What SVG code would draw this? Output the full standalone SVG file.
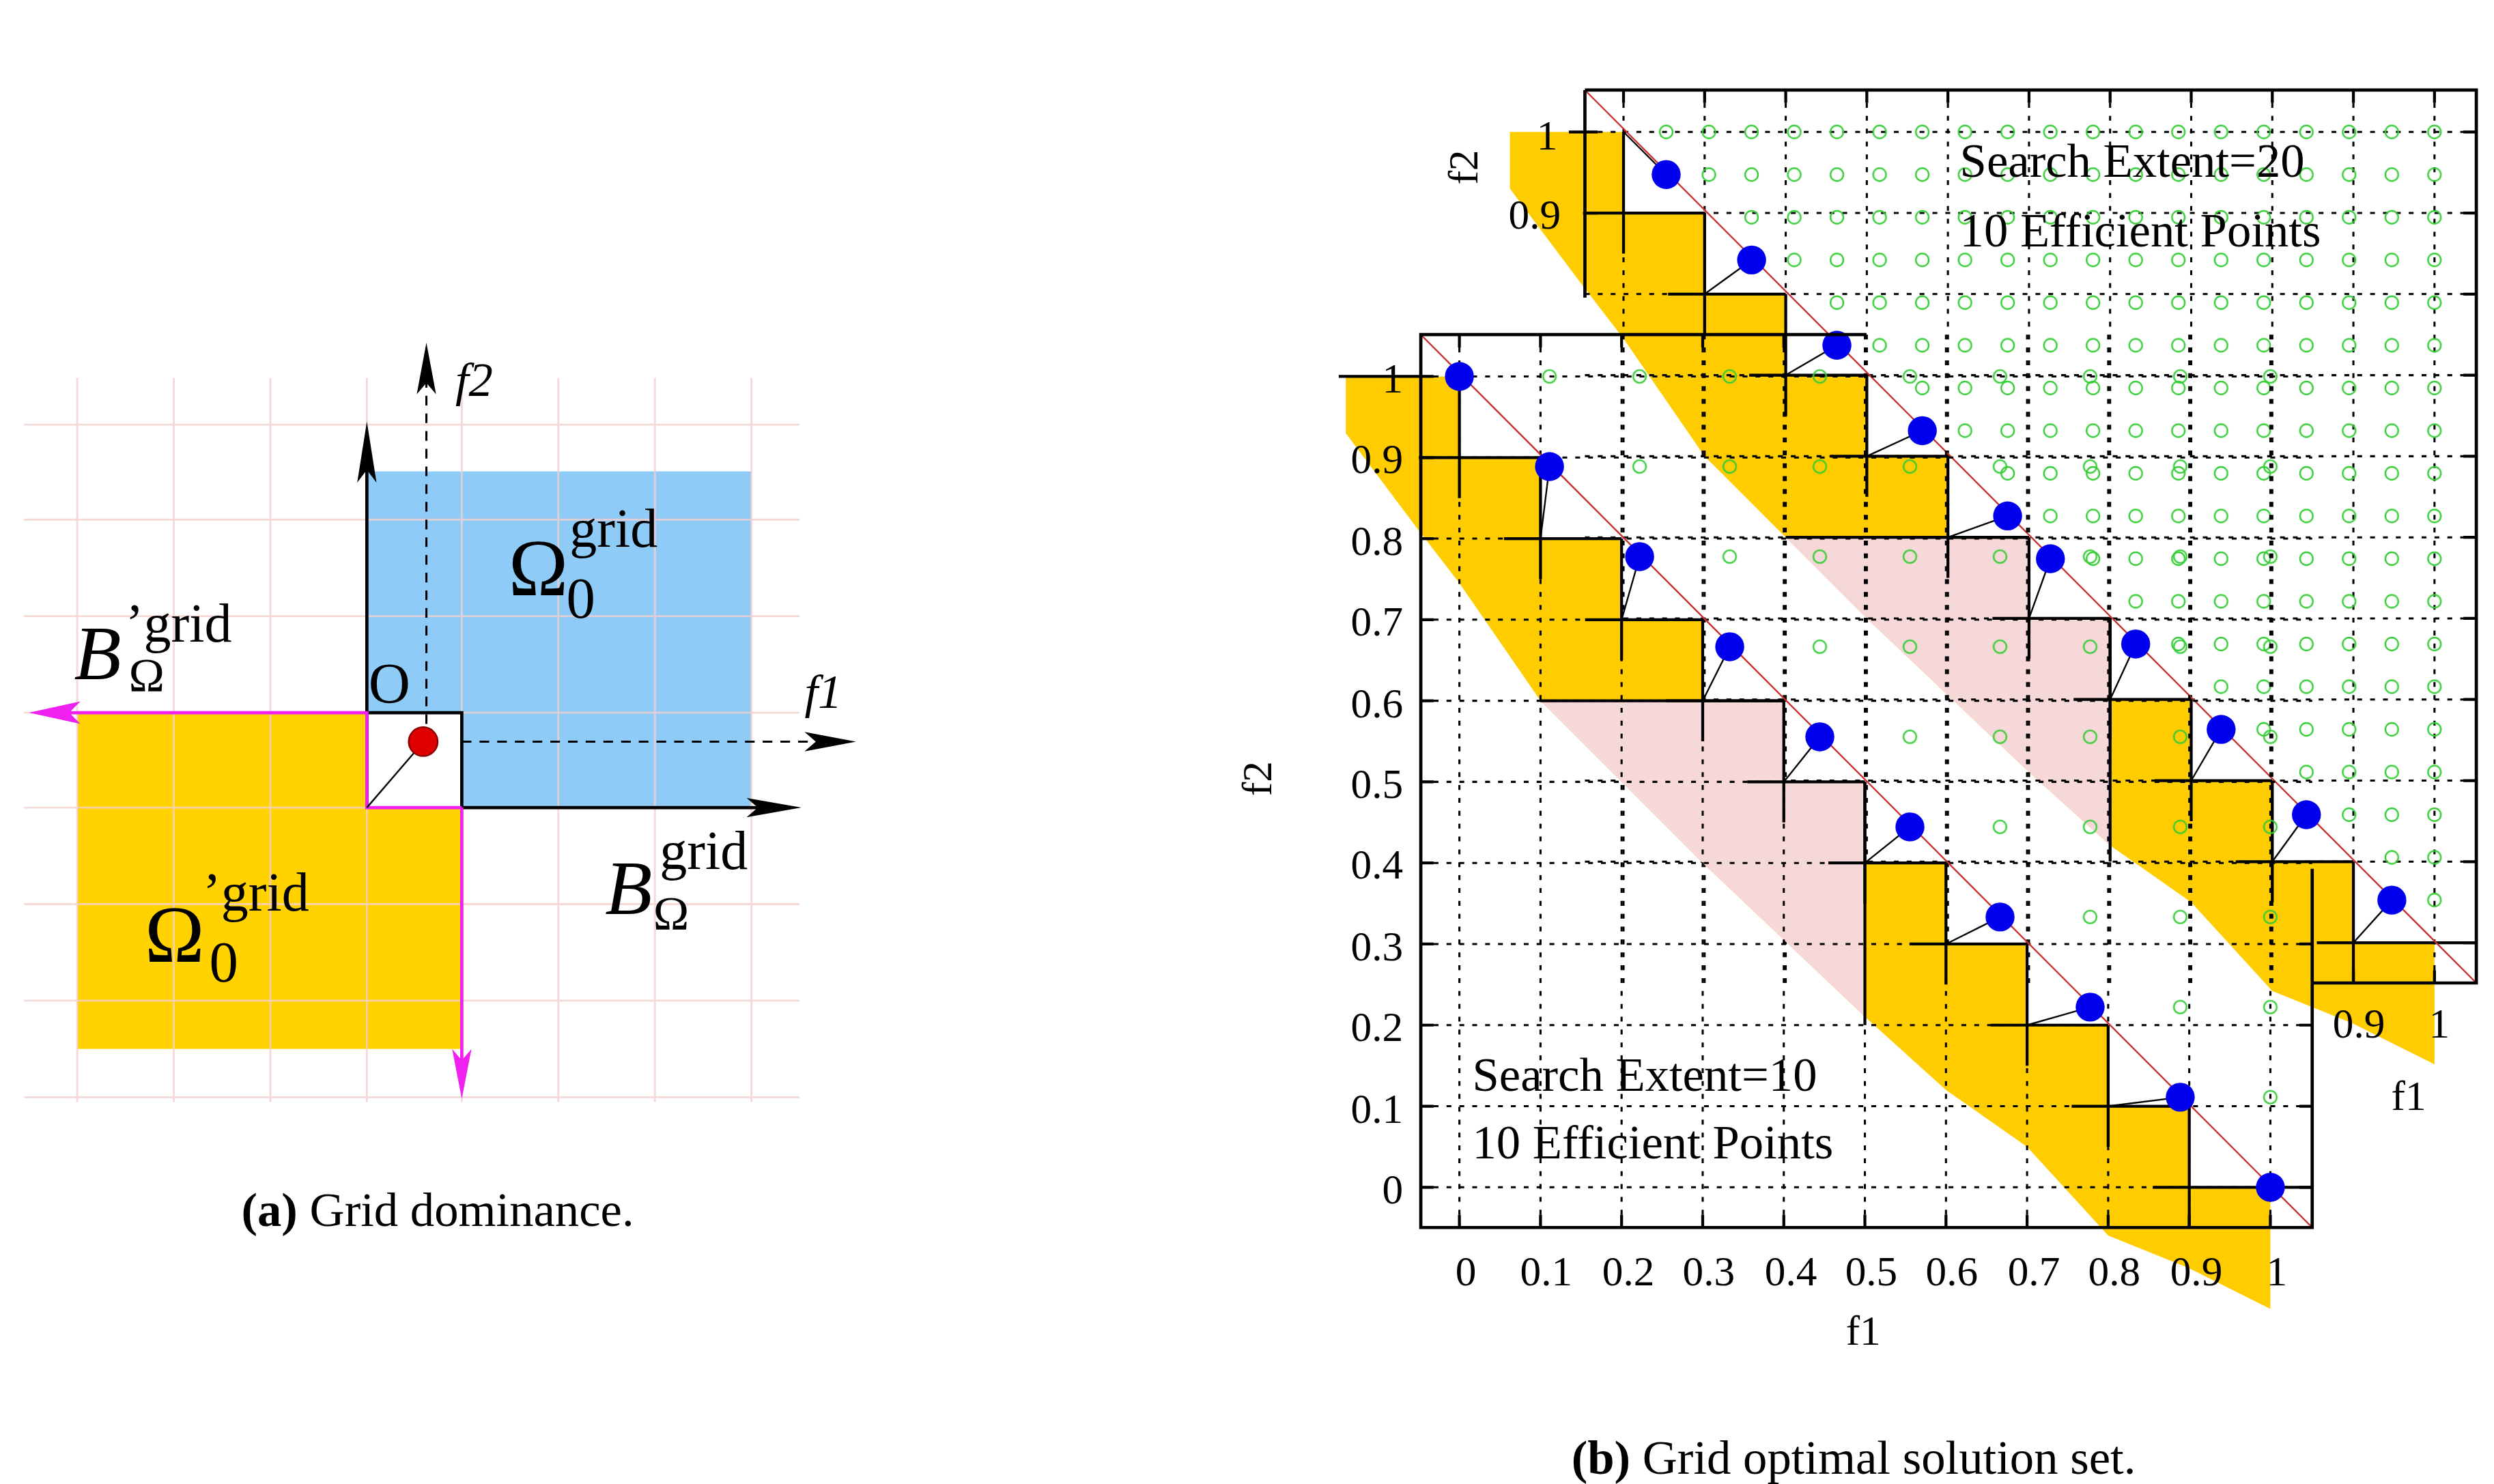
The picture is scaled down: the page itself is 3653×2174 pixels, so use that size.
<svg xmlns="http://www.w3.org/2000/svg" xmlns:xlink="http://www.w3.org/1999/xlink" width="3653" height="2174" viewBox="0 0 3653 2174">
<style>
text{font-family:"Liberation Serif","DejaVu Serif",serif;fill:#000}
.it{font-style:italic}
.tk{font-size:26px}
.grid{stroke:#f3d0d0;stroke-width:1.2;opacity:0.8;fill:none}
.dash{stroke:#000;stroke-width:1.3;stroke-dasharray:3 5;fill:none}
.blk{stroke:#000;stroke-width:1.8;fill:none}
.red{stroke:#c83030;stroke-width:1;fill:none}
.dot{fill:#0000ee}
.yel{fill:#ffcc00}
.pink{fill:#f7d8d8}
</style>
<defs>
<pattern id="gf" patternUnits="userSpaceOnUse" x="879" y="710" width="56" height="56"><circle cx="28" cy="28" r="4" fill="none" stroke="#33cc33" stroke-width="1"/></pattern>
<pattern id="gb" patternUnits="userSpaceOnUse" x="995.737" y="572.737" width="26.526" height="26.526"><circle cx="13.263" cy="13.263" r="4" fill="none" stroke="#33cc33" stroke-width="1"/></pattern>
<polygon id="band" class="yel" points="836.4,234 907,234 907,284.4 957.4,284.4 957.4,334.8 1007.8,334.8 1007.8,385.2 1058.2,385.2 1058.2,435.6 1108.6,435.6 1108.6,486 1159,486 1159,536.4 1209.4,536.4 1209.4,586.8 1259.8,586.8 1259.8,637.2 1310.2,637.2 1310.2,687.6 1360.6,687.6 1360.6,738 1411,738 1411,813.6 1360.6,788.4 1310.2,768 1259.8,712.8 1209.4,677.5 1159,632 1058.2,536.4 957.4,435.6 907,362.5 881.8,329.8 836.4,269.3"/>
<path id="steps" class="blk" d="M881.8,284.4H957.4M907,234V309.6 M934.7,334.8H1007.8M957.4,284.4V360 M985.1,385.2H1058.2M1007.8,334.8V410.4 M1035.5,435.6H1108.6M1058.2,385.2V460.8 M1085.9,486H1159M1108.6,435.6V511.2 M1136.3,536.4H1209.4M1159,486V561.6 M1186.7,586.8H1259.8M1209.4,536.4V612 M1237.1,637.2H1310.2M1259.8,586.8V662.4 M1287.5,687.6H1360.6M1310.2,637.2V712.8 M1337.9,738H1437M1360.6,687.6V763"/>
</defs>
<g transform="scale(2.3568)">
<!-- Panel (a) -->
<g id="panel-a">
<rect x="228" y="293" width="239" height="209" fill="#8ecbf6"/>
<rect x="48" y="443" width="239" height="209" fill="#ffd200"/>
<rect x="228" y="443" width="59" height="59" fill="#fff"/>
<path class="grid" d="M48,235V685M108,235V685M168,235V685M228,235V685M287,235V685M347,235V685M407,235V685M467,235V685M15,264H497M15,323H497M15,383H497M15,443H497M15,502H497M15,562H497M15,622H497M15,682H497"/>
</g>
<g id="connectors-a">
<path d="M265,461V222" stroke="#000" stroke-width="1.3" stroke-dasharray="6 5" fill="none"/>
<polygon points="265,213 259,245 265,238 271,245"/>
<path d="M287,461H522" stroke="#000" stroke-width="1.3" stroke-dasharray="6 5" fill="none"/>
<polygon points="532,461 500,455 507,461 500,467"/>
<path d="M228,502V272M228,443H287V502H490" stroke="#000" stroke-width="2" fill="none"/>
<polygon points="228,262 222,300 228,292 234,300"/>
<polygon points="498,502 464,496 471,502 464,508"/>
<path d="M287,502H228V443H28M287,502V672" stroke="#f020f0" stroke-width="2" fill="none"/>
<polygon points="18,443 50,436 43,443 50,450" fill="#f020f0"/>
<polygon points="287,683 281,652 287,659 293,652" fill="#f020f0"/>
<line x1="228" y1="502" x2="259" y2="466" stroke="#000" stroke-width="1"/>
</g>
<g id="origin-point"><circle cx="263" cy="461" r="9" fill="#e00000" stroke="#800" stroke-width="1"/></g>
<g id="labels-a">
<text x="283" y="246" class="it" font-size="30">f2</text>
<text x="500" y="440" class="it" font-size="30">f1</text>
<text x="229" y="437" font-size="36">O</text>
<text font-size="50"><tspan x="316" y="370">Ω</tspan><tspan font-size="34" x="354" y="340">grid</tspan><tspan font-size="36" x="352" y="384">0</tspan></text>
<text font-size="48"><tspan class="it" x="46" y="422">B</tspan><tspan font-size="34" x="78" y="399">’grid</tspan><tspan font-size="30" x="80" y="430">Ω</tspan></text>
<text font-size="50"><tspan x="90" y="598">Ω</tspan><tspan font-size="34" x="126" y="566">’grid</tspan><tspan font-size="36" x="130" y="610">0</tspan></text>
<text font-size="48"><tspan class="it" x="376" y="568">B</tspan><tspan font-size="34" x="410" y="540">grid</tspan><tspan font-size="30" x="406" y="578">Ω</tspan></text>
<text x="272" y="762" font-size="30" text-anchor="middle"><tspan font-weight="bold">(a)</tspan> Grid dominance.</text>
</g>

<!-- Panel (b): back plot (Search Extent=20) -->
<g id="plot-back" transform="translate(102,-152)">
<use xlink:href="#band"/>
<polygon class="pink" points="1007.8,486 1159,486 1159,536.4 1209.4,536.4 1209.4,677.5 1159,632 1058.2,536.4"/>
<path class="dash" d="M907,208V763M957.4,208V763M1007.8,208V763M1058.2,208V763M1108.6,208V763M1159,208V763M1209.4,208V763M1259.8,208V763M1310.2,208V763M1360.6,208V763M1411,208V763"/>
</g>
<g id="back-grid-h">
<path class="dash" d="M985,82H1539M985,132.4H1539M985,182.8H1539M985,233.2H1539M985,283.6H1539M985,334H1539M985,384.4H1539M985,434.8H1539M985,485.2H1539M985,535.6H1539"/>
<polygon points="1010,70 1525,70 1525,585" fill="url(#gb)"/>
</g>
<g id="back-steps" transform="translate(102,-152)">
<use xlink:href="#steps"/>
<path class="blk" d="M1007.8,486H1159M1209.4,536.4V687.6"/>
<line class="red" x1="883" y1="208" x2="1437" y2="763"/>
<path stroke="#000" stroke-width="1" d="M907,234L933.5,260.5M957.4,334.8L986.6,313.6M1007.8,385.2L1039.6,366.6M1058.2,435.6L1092.7,419.7M1108.6,486L1145.7,472.7M1159,536.4L1172.3,499.3M1209.4,586.8L1225.3,552.3M1259.8,637.2L1278.4,605.4M1310.2,687.6L1331.4,658.4M1360.6,738L1384.5,711.5"/>
<g class="dot"><circle cx="933.5" cy="260.5" r="9"/><circle cx="986.6" cy="313.6" r="9"/><circle cx="1039.6" cy="366.6" r="9"/><circle cx="1092.7" cy="419.7" r="9"/><circle cx="1145.7" cy="472.7" r="9"/><circle cx="1172.3" cy="499.3" r="9"/><circle cx="1225.3" cy="552.3" r="9"/><circle cx="1278.4" cy="605.4" r="9"/><circle cx="1331.4" cy="658.4" r="9"/><circle cx="1384.5" cy="711.5" r="9"/></g>
</g>
<g id="back-frame">
<path stroke="#000" stroke-width="2" fill="none" d="M985,56H1539V611H1437M985,56V185"/>
<path class="blk" d="M1009,56v8M1059.4,56v8M1109.8,56v8M1160.2,56v8M1210.6,56v8M1261,56v8M1311.4,56v8M1361.8,56v8M1412.2,56v8M1462.6,56v8M1513,56v8M1539,82h-8M1539,132.4h-8M1539,182.8h-8M1539,233.2h-8M1539,283.6h-8M1539,334h-8M1539,384.4h-8M1539,434.8h-8M1539,485.2h-8M1539,535.6h-8M1539,586h-8M1462.6,611v-8M1513,611v-8M975,82h18M985,132.4h8"/>
<text class="tk" x="968" y="93" text-anchor="end">1</text>
<text class="tk" x="970" y="142" text-anchor="end">0.9</text>
<text class="tk" transform="translate(918,104) rotate(-90)" text-anchor="middle">f2</text>
<text class="tk" x="1466" y="645" text-anchor="middle">0.9</text>
<text class="tk" x="1516" y="645" text-anchor="middle">1</text>
<text class="tk" x="1497" y="690" text-anchor="middle">f1</text>
<text x="1218" y="110" font-size="30">Search Extent=20</text>
<text x="1218" y="153" font-size="30">10 Efficient Points</text>
</g>

<!-- Panel (b): front plot (Search Extent=10) -->
<g id="plot-front">
<use xlink:href="#band"/>
<polygon class="pink" points="957.4,435.6 1108.6,435.6 1108.6,486 1159,486 1159,632 1058.2,536.4"/>
<path class="dash" d="M907,208V763M957.4,208V763M1007.8,208V763M1058.2,208V763M1108.6,208V763M1159,208V763M1209.4,208V763M1259.8,208V763M1310.2,208V763M1360.6,208V763M1411,208V763M883,234H1437M883,284.4H1437M883,334.8H1437M883,385.2H1437M883,435.6H1437M883,486H1437M883,536.4H1437M883,586.8H1437M883,637.2H1437M883,687.6H1437M883,738H1437"/>
<polygon points="916,215 1430,215 1430,729" fill="url(#gf)"/>
<use xlink:href="#steps"/>
<path class="blk" d="M957.4,435.6H1108.6M1159,486V637.2"/>
<line class="red" x1="883" y1="208" x2="1437" y2="763"/>
<path stroke="#000" stroke-width="1" d="M907,284.4L907,234M957.4,334.8L963,290M1007.8,385.2L1019,346M1058.2,435.6L1075,402M1108.6,486L1131,458M1159,536.4L1187,514M1209.4,586.8L1243,570M1259.8,637.2L1299,626M1310.2,687.6L1355,682M1360.6,738L1411,738"/>
<g class="dot"><circle cx="907" cy="234" r="9"/><circle cx="963" cy="290" r="9"/><circle cx="1019" cy="346" r="9"/><circle cx="1075" cy="402" r="9"/><circle cx="1131" cy="458" r="9"/><circle cx="1187" cy="514" r="9"/><circle cx="1243" cy="570" r="9"/><circle cx="1299" cy="626" r="9"/><circle cx="1355" cy="682" r="9"/><circle cx="1411" cy="738" r="9"/></g>
</g>
<g id="front-frame">
<path stroke="#000" stroke-width="2" fill="none" d="M1160,208H883V763H1437V540"/>
<path class="blk" d="M907,763v-8M957.4,763v-8M1007.8,763v-8M1058.2,763v-8M1108.6,763v-8M1159,763v-8M1209.4,763v-8M1259.8,763v-8M1310.2,763v-8M1360.6,763v-8M1411,763v-8M907,208v8M957.4,208v8M1007.8,208v8M1058.2,208v8M1108.6,208v8M883,234h8M883,284.4h8M883,334.8h8M883,385.2h8M883,435.6h8M883,486h8M883,536.4h8M883,586.8h8M883,637.2h8M883,687.6h8M883,738h8M1437,586.8h-8M1437,637.2h-8M1437,687.6h-8M1437,738h-8M832,234h51"/>
<g class="tk" text-anchor="end">
<text x="872" y="244">1</text><text x="872" y="294">0.9</text><text x="872" y="345">0.8</text><text x="872" y="395">0.7</text><text x="872" y="446">0.6</text><text x="872" y="496">0.5</text><text x="872" y="546">0.4</text><text x="872" y="597">0.3</text><text x="872" y="647">0.2</text><text x="872" y="698">0.1</text><text x="872" y="748">0</text>
</g>
<g class="tk" text-anchor="middle">
<text x="911" y="799">0</text><text x="961" y="799">0.1</text><text x="1012" y="799">0.2</text><text x="1062" y="799">0.3</text><text x="1113" y="799">0.4</text><text x="1163" y="799">0.5</text><text x="1213" y="799">0.6</text><text x="1264" y="799">0.7</text><text x="1314" y="799">0.8</text><text x="1365" y="799">0.9</text><text x="1415" y="799">1</text>
</g>
<text class="tk" x="1158" y="836" text-anchor="middle">f1</text>
<text class="tk" transform="translate(790,484) rotate(-90)" text-anchor="middle">f2</text>
<text x="915" y="678" font-size="30">Search Extent=10</text>
<text x="915" y="720" font-size="30">10 Efficient Points</text>
</g>
<text x="1152" y="916" font-size="30" text-anchor="middle"><tspan font-weight="bold">(b)</tspan> Grid optimal solution set.</text>
</g>
</svg>
